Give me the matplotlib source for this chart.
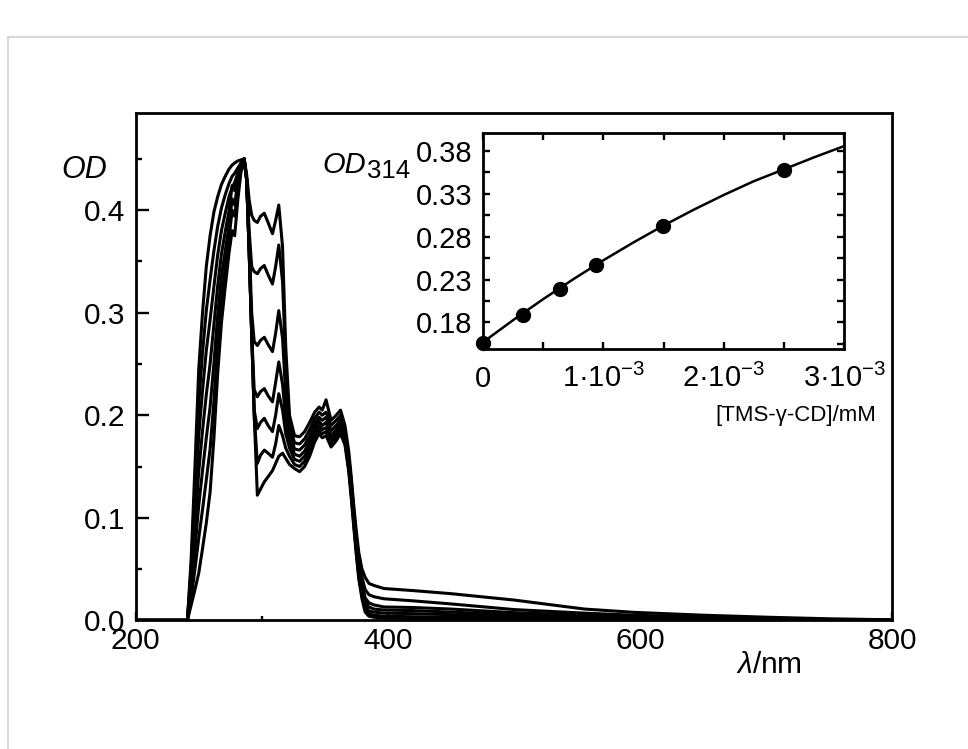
import matplotlib
matplotlib.use('Agg')
from matplotlib import pyplot as plt
from matplotlib.ticker import MultipleLocator, FixedLocator, FormatStrFormatter
from matplotlib.patches import Rectangle

plt.rcParams['font.family'] = ['Liberation Sans', 'DejaVu Sans']
plt.rcParams['mathtext.fontset'] = 'custom'
plt.rcParams['mathtext.rm'] = 'Liberation Sans'
plt.rcParams['mathtext.it'] = 'Liberation Sans:italic'
plt.rcParams['mathtext.bf'] = 'Liberation Sans:bold'

# wavelength grid (nm) shared by all spectra
wl = [200, 241, 244, 247, 250, 253, 256, 259, 262, 265, 268, 271, 274, 276.5, 278.5, 281, 283.5, 286,
      288, 290, 292, 294,
      296.5, 299, 302, 305, 308.5, 311, 313.5, 316.5,
      319, 322,
      326, 330, 334, 338, 342, 345.5, 348, 351, 355, 359, 362.5, 366,
      369, 371, 373, 375, 377, 379.5, 382,
      385, 389, 397,
      420, 450, 500, 556, 595, 650, 702, 750, 800]

od_0 = [0, 0, 0.015, 0.03, 0.046, 0.07, 0.095, 0.125, 0.177, 0.24, 0.29, 0.325, 0.358, 0.38, 0.375, 0.41, 0.437, 0.45,
        0.43, 0.36, 0.28, 0.2,
        0.122, 0.128, 0.135, 0.14, 0.146, 0.153, 0.16, 0.163,
        0.158, 0.152,
        0.148, 0.145, 0.15, 0.16, 0.174, 0.182, 0.178, 0.18, 0.169, 0.175, 0.182, 0.171,
        0.145, 0.119, 0.091, 0.064, 0.04, 0.021, 0.008,
        0.004, 0.003, 0.002,
        0.0018, 0.0015, 0.001, 0.0007, 0.0005, 0.0003, 0.0002, 0, 0]
od_1 = [0, 0, 0.022, 0.05, 0.08, 0.108, 0.137, 0.167, 0.213, 0.268, 0.312, 0.343, 0.372, 0.400, 0.394, 0.42, 0.44, 0.45,
        0.43, 0.36, 0.28, 0.2,
        0.153, 0.161, 0.166, 0.163, 0.159, 0.172, 0.19, 0.18,
        0.168, 0.16,
        0.152, 0.15, 0.155, 0.165, 0.178, 0.186, 0.182, 0.184, 0.172, 0.178, 0.185, 0.174,
        0.148, 0.122, 0.094, 0.067, 0.043, 0.024, 0.011,
        0.006, 0.005, 0.004,
        0.0035, 0.003, 0.0022, 0.0015, 0.001, 0.0006, 0.0003, 0.0001, 0]
od_2 = [0, 0, 0.03, 0.07, 0.112, 0.146, 0.178, 0.208, 0.25, 0.297, 0.335, 0.36, 0.385, 0.411, 0.405, 0.428, 0.442, 0.45,
        0.43, 0.36, 0.28, 0.205,
        0.187, 0.193, 0.197, 0.19, 0.184, 0.2, 0.221, 0.205,
        0.182, 0.168,
        0.157, 0.155, 0.16, 0.17, 0.183, 0.19, 0.186, 0.188, 0.176, 0.182, 0.188, 0.177,
        0.151, 0.125, 0.097, 0.07, 0.046, 0.027, 0.014,
        0.009, 0.008, 0.007,
        0.0065, 0.0055, 0.0038, 0.0025, 0.0017, 0.001, 0.0005, 0.0002, 0]
od_3 = [0, 0, 0.037, 0.09, 0.145, 0.185, 0.22, 0.25, 0.288, 0.326, 0.357, 0.379, 0.399, 0.424, 0.419, 0.436, 0.444, 0.45,
        0.43, 0.36, 0.28, 0.225,
        0.218, 0.223, 0.226, 0.219, 0.213, 0.232, 0.252, 0.23,
        0.195, 0.175,
        0.162, 0.16, 0.165, 0.175, 0.188, 0.194, 0.19, 0.193, 0.18, 0.186, 0.192, 0.18,
        0.154, 0.128, 0.1, 0.074, 0.05, 0.031, 0.018,
        0.013, 0.011, 0.010,
        0.0095, 0.008, 0.0055, 0.0035, 0.0025, 0.0015, 0.0007, 0.0003, 0]
od_4 = [0, 0, 0.045, 0.11, 0.18, 0.224, 0.263, 0.293, 0.325, 0.356, 0.38, 0.397, 0.413, 0.422, 0.427, 0.436, 0.445, 0.45,
        0.43, 0.37, 0.30, 0.272,
        0.268, 0.273, 0.276, 0.269, 0.262, 0.28, 0.302, 0.275,
        0.22, 0.185,
        0.167, 0.166, 0.171, 0.18, 0.192, 0.198, 0.195, 0.198, 0.185, 0.19, 0.196, 0.183,
        0.157, 0.131, 0.103, 0.077, 0.054, 0.036, 0.022,
        0.017, 0.015, 0.013,
        0.0125, 0.011, 0.0075, 0.005, 0.0035, 0.002, 0.001, 0.0005, 0]
od_5 = [0, 0, 0.052, 0.13, 0.211, 0.261, 0.302, 0.332, 0.36, 0.384, 0.402, 0.415, 0.426, 0.433, 0.436, 0.441, 0.446, 0.45,
        0.43, 0.38, 0.345, 0.34,
        0.338, 0.343, 0.346, 0.337, 0.328, 0.345, 0.366, 0.33,
        0.25, 0.193,
        0.173, 0.172, 0.177, 0.186, 0.197, 0.203, 0.2, 0.203, 0.19, 0.195, 0.2, 0.186,
        0.16, 0.135, 0.107, 0.082, 0.06, 0.042, 0.03,
        0.025, 0.023, 0.021,
        0.019, 0.016, 0.0105, 0.007, 0.005, 0.003, 0.0015, 0.0008, 0.0003]
od_6 = [0, 0, 0.06, 0.15, 0.245, 0.30, 0.345, 0.375, 0.398, 0.413, 0.425, 0.433, 0.44, 0.444, 0.446, 0.448, 0.449, 0.45,
        0.435, 0.41, 0.395, 0.39,
        0.388, 0.394, 0.397, 0.388, 0.377, 0.39, 0.405, 0.364,
        0.267, 0.2,
        0.18, 0.179, 0.184, 0.193, 0.203, 0.208, 0.205, 0.215, 0.195, 0.2, 0.205, 0.19,
        0.165, 0.14, 0.112, 0.087, 0.066, 0.05, 0.042,
        0.036, 0.034, 0.031,
        0.029, 0.026, 0.0198, 0.011, 0.0078, 0.005, 0.003, 0.0015, 0.0005]
spectra = [od_0, od_1, od_2, od_3, od_4, od_5, od_6]

# inset: OD at 314 nm vs host concentration
conc = [0, 0.33e-3, 0.642e-3, 0.939e-3, 1.498e-3, 2.504e-3]
od314 = [0.1555, 0.1885, 0.2185, 0.2465, 0.293, 0.3576]
fit_x = [0, 0.25e-3, 0.5e-3, 0.75e-3, 1.0e-3, 1.25e-3, 1.5e-3, 1.75e-3, 2.0e-3, 2.25e-3, 2.5e-3, 2.75e-3, 3.0e-3]
fit_y = [0.157, 0.1827, 0.2072, 0.2304, 0.2525, 0.2733, 0.293, 0.3114, 0.3286, 0.3447, 0.3585, 0.3725, 0.3856]

main_xticks = [200, 400, 600, 800]
main_yticks = [0.0, 0.1, 0.2, 0.3, 0.4]
ins_xticks = [0, 1e-3, 2e-3, 3e-3]
ins_xlabels = ['0', '1·10$^{-3}$', '2·10$^{-3}$', '3·10$^{-3}$']
ins_yticks = [0.18, 0.23, 0.28, 0.33, 0.38]
ins_yminor = [0.155, 0.205, 0.255, 0.305, 0.355]

fig = plt.figure(figsize=(9.68, 7.49), dpi=100)
# light frame around the figure
fig.add_artist(Rectangle((8 / 968, -0.1), 1.2, 1 - 37 / 749 + 0.1, transform=fig.transFigure,
                         facecolor='none', edgecolor='#d9d9d9', lw=1.5))

ax = fig.add_axes([0.1402, 0.1718, 0.7813, 0.6777])
for od in spectra:
    ax.plot(wl, od, color='k', lw=2.2, solid_joinstyle='round')
ax.set_xlim(200, 800)
ax.set_ylim(0, 0.495)
ax.set_xticks(main_xticks)
ax.set_yticks(main_yticks)
ax.xaxis.set_minor_locator(MultipleLocator(100))
ax.yaxis.set_minor_locator(MultipleLocator(0.05))
ax.yaxis.set_major_formatter(FormatStrFormatter('%.1f'))
ax.tick_params(which='both', direction='in', labelsize=21.5, width=1.7, top=False, right=False)
ax.tick_params(axis='x', which='major', length=6, pad=5)
ax.tick_params(axis='x', which='minor', length=3)
ax.tick_params(axis='y', which='major', length=9, pad=7.5)
ax.tick_params(axis='y', which='minor', length=4.5)
for s in ax.spines.values():
    s.set_linewidth(2.0)

fig.text(61 / 968, 1 - 178 / 749, 'OD', fontsize=22, style='italic', va='baseline')
fig.text(736 / 968, 1 - 673 / 749, r'$\lambda$/nm', fontsize=21.5, va='baseline')

ins = fig.add_axes([0.499, 0.534, 0.373, 0.288])
ins.plot(fit_x, fit_y, color='k', lw=1.8)
ins.plot(conc, od314, 'o', color='k', ms=10, clip_on=False, zorder=3)
ins.set_xlim(0, 3e-3)
ins.set_ylim(0.149, 0.4005)
ins.xaxis.set_major_locator(FixedLocator(ins_xticks))
ins.set_xticklabels(ins_xlabels, va='baseline')
ins.xaxis.set_minor_locator(MultipleLocator(0.5e-3))
ins.yaxis.set_major_locator(FixedLocator(ins_yticks))
ins.yaxis.set_minor_locator(FixedLocator(ins_yminor))
ins.yaxis.set_major_formatter(FormatStrFormatter('%.2f'))
ins.tick_params(which='both', direction='in', labelsize=21, width=1.7, length=5,
                top=True, right=True)
ins.tick_params(axis='x', which='major', pad=27)
ins.tick_params(axis='y', which='major', pad=7.5)
for s in ins.spines.values():
    s.set_linewidth(2.0)

fig.text(322 / 968, 1 - 173 / 749, 'OD', fontsize=21, style='italic', va='baseline')
fig.text(367 / 968, 1 - 178 / 749, '314', fontsize=18.5, va='baseline')
fig.text(876 / 968, 1 - 421 / 749, '[TMS-γ-CD]/mM', fontsize=16, ha='right', va='baseline')

fig.savefig('out.png', dpi=100)
